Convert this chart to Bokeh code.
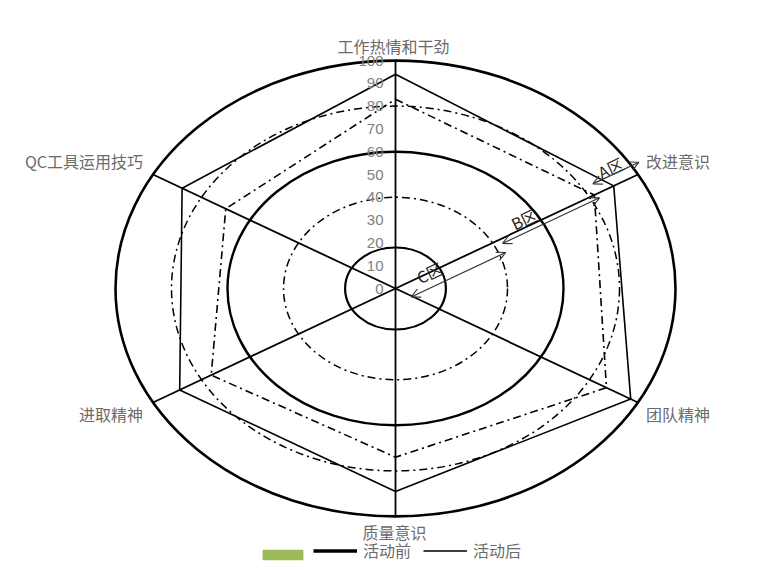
import numpy as np
from bokeh.plotting import figure
from bokeh.models import ColumnDataSource, Arrow, OpenHead, Legend, LegendItem, Range1d
from bokeh.embed import file_html
from bokeh.resources import INLINE
from bokeh.core.properties import value

# ---------------- data ----------------
categories = ["工作热情和干劲", "改进意识", "团队精神", "质量意识", "进取精神", "QC工具运用技巧"]
before_values = [83, 82, 87, 74, 76, 70]   # 活动前 (dash-dot polygon)
after_values = [94, 90, 97, 89, 89, 88]    # 活动后 (solid polygon)
tick_values = [0, 10, 20, 30, 40, 50, 60, 70, 80, 90, 100]
tick_labels = [str(v) for v in tick_values]
ring_levels = [18, 40, 60, 80, 100]
zone_labels = ["C区", "B区", "A区"]
zone_start = [3, 43, 84]
zone_end = [42, 83, 103]
zone_label_at = [14, 55, 93]
legend_labels = ["", "活动前", "活动后"]

# ---------------- styles ----------------
ring_dash = ["solid", "8 4 2 4", "solid", "8 4 2 4", "solid"]
ring_width = [2.2, 1.5, 2.4, 1.5, 2.6]
zone_arrow_off = [6, 2, -4.5]
zone_text_off = [0, -3.5, -7.5]
label_align = ["center", "left", "left", "center", "right", "right"]
label_dx = [-2, 8, 8, -1, -10, -10]
label_dy = [-15, -14, 11, 15, 11, -14]
CJK = "Noto Sans CJK SC"

W, H = 752, 562
cx_px, cy_px = 395, 288
sx, sy = 2.80, 2.28

p = figure(width=W, height=H, output_backend="svg", toolbar_location=None,
           x_range=Range1d(-cx_px / sx, (W - cx_px) / sx),
           y_range=Range1d(-(H - cy_px) / sy, cy_px / sy),
           x_axis_type=None, y_axis_type=None, min_border=0)
p.grid.visible = False
p.outline_line_color = None
p.background_fill_color = "white"

n = len(categories)
theta = np.deg2rad(90 - 60 * np.arange(n))
ux, uy = np.cos(theta), np.sin(theta)

# rings
for lvl, dash, lw in zip(ring_levels, ring_dash, ring_width):
    p.ellipse(x=0, y=0, width=2 * lvl, height=2 * lvl, fill_color=None,
              line_color="black", line_width=lw, line_dash=dash)

# spokes
rmax = ring_levels[-1]
p.segment(x0=np.zeros(n), y0=np.zeros(n), x1=ux * rmax, y1=uy * rmax,
          line_color="black", line_width=1.8)

# polygons
def closed(vals):
    v = np.array(vals + vals[:1], dtype=float)
    t = np.concatenate([theta, theta[:1]])
    return v * np.cos(t), v * np.sin(t)

bx, by = closed(before_values)
p.line(bx, by, line_color="black", line_width=1.6, line_dash="8 4 2 4")
ax_, ay_ = closed(after_values)
p.line(ax_, ay_, line_color="black", line_width=1.6)

# tick labels
p.text(x=[0] * len(tick_values), y=tick_values, text=tick_labels, x_offset=-12,
       text_align="right", text_baseline="middle", text_color="#808080",
       text_font=value("Liberation Sans"), text_font_size="15px")

# category labels
p.text(x=ux * rmax, y=uy * rmax, text=categories,
       x_offset=label_dx, y_offset=label_dy,
       text_align=label_align, text_baseline="middle", text_color="#6b6b6b",
       text_font=value(CJK), text_font_size="16px")

# zone arrows along 改进意识 axis
k = 1
dx, dy = ux[k], uy[k]
nx, ny = dy, -dx
zs = np.array(zone_start, dtype=float)
ze = np.array(zone_end, dtype=float)
zo = np.array(zone_arrow_off, dtype=float)
arr_src = ColumnDataSource(dict(
    x0=zs * dx + zo * nx, y0=zs * dy + zo * ny,
    x1=ze * dx + zo * nx, y1=ze * dy + zo * ny))
p.add_layout(Arrow(start=OpenHead(size=9, line_width=1.1, line_color="#333333"),
                   end=OpenHead(size=9, line_width=1.1, line_color="#333333"),
                   x_start="x0", y_start="y0", x_end="x1", y_end="y1",
                   line_color="#333333", line_width=1.2, source=arr_src))
zl = np.array(zone_label_at, dtype=float)
zt = np.array(zone_text_off, dtype=float)
ang = float(np.arctan2(dy * sy, dx * sx))
p.text(x=zl * dx + zt * nx, y=zl * dy + zt * ny, text=zone_labels, angle=ang,
       text_align="center", text_baseline="middle", text_color="#222222",
       text_font=value(CJK), text_font_size="16px")

# legend
nanx = [np.nan]
g0 = p.rect(x=nanx, y=nanx, width=1, height=1, fill_color="#9BBB59", line_color=None)
g1 = p.line(x=nanx, y=nanx, line_color="black", line_width=3.5)
g2 = p.line(x=nanx, y=nanx, line_color="black", line_width=1.4)
common = dict(orientation="horizontal", label_standoff=6, spacing=12, padding=0,
              margin=0, border_line_alpha=0, background_fill_alpha=0,
              label_text_font=CJK, label_text_font_size="16px",
              label_text_color="#6b6b6b", label_height=16, label_width=0)
legend_a = Legend(items=[LegendItem(label=value(legend_labels[0]), renderers=[g0])],
                  location=(257, 0), glyph_width=51, glyph_height=13, **common)
legend_b = Legend(items=[LegendItem(label=value(legend_labels[1]), renderers=[g1]),
                         LegendItem(label=value(legend_labels[2]), renderers=[g2])],
                  location=(313, 0), glyph_width=44, glyph_height=13, **common)
p.add_layout(legend_a)
p.add_layout(legend_b)

open("out.html", "w").write(file_html(p, INLINE))
